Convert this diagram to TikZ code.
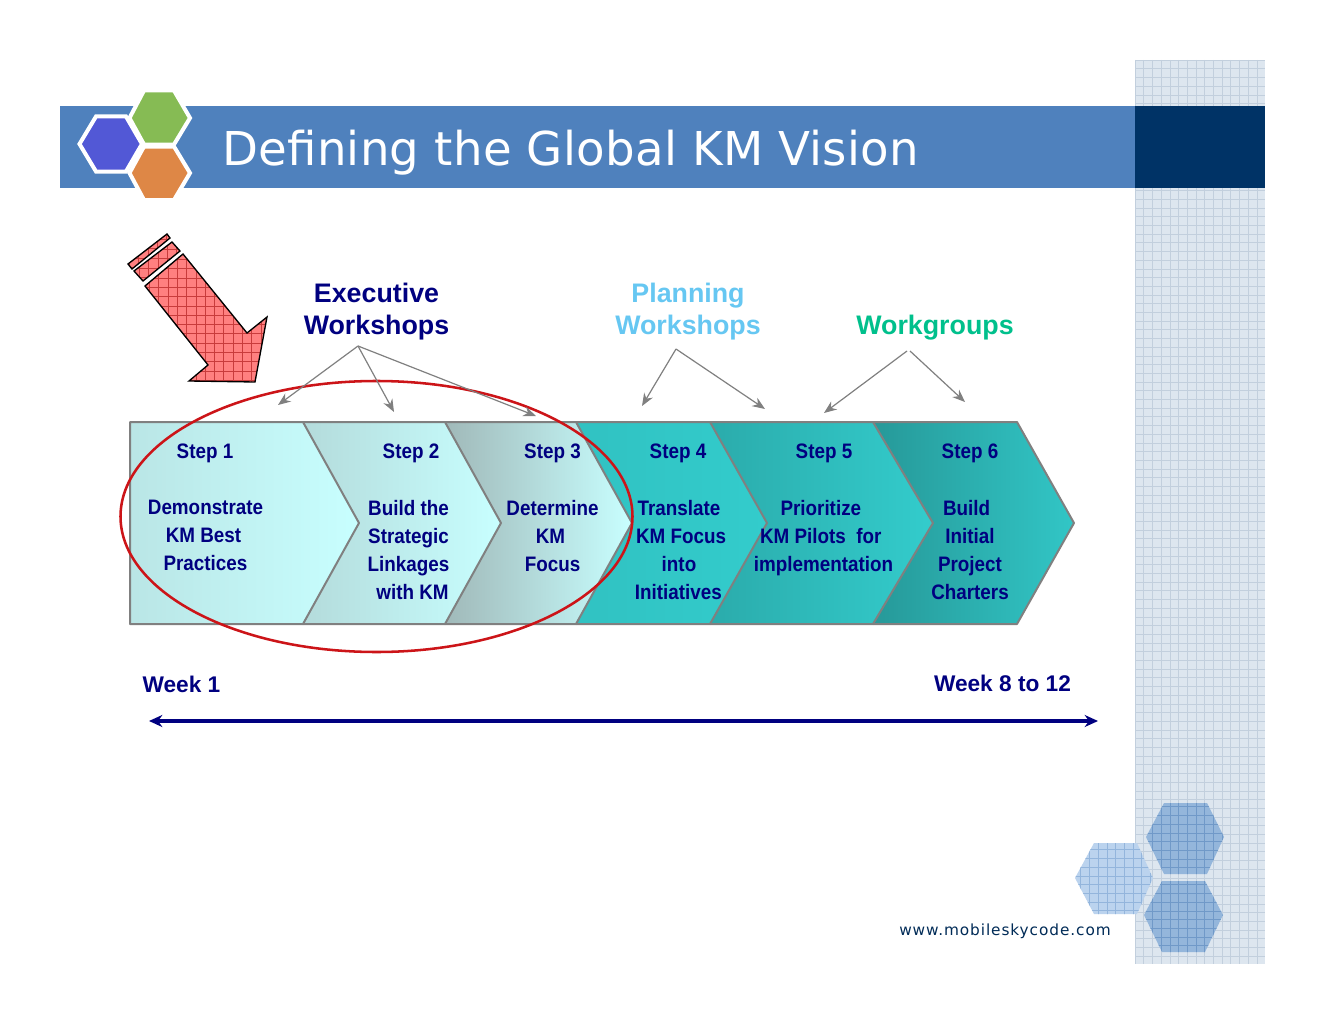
\documentclass[tikz,border=0pt]{standalone}
\usepackage{fontspec}
\setmainfont{Liberation Sans}
\newfontfamily\titlefont[LetterSpace=0.55]{DejaVu Sans}
\newfontfamily\urlfont[LetterSpace=6]{DejaVu Sans}
\newfontfamily\stepfont[FakeStretch=0.9]{Liberation Sans Bold}
\usetikzlibrary{arrows.meta}
\definecolor{barblue}{HTML}{4F81BD}
\definecolor{barnavy}{HTML}{003366}
\definecolor{panelbase}{HTML}{DDE6EF}
\definecolor{panelline}{HTML}{C2CFDD}
\definecolor{hexblue}{HTML}{5258D6}
\definecolor{hexgreen}{HTML}{86BB54}
\definecolor{hexorange}{HTML}{DE8746}
\definecolor{txtnavy}{HTML}{000080}
\definecolor{txtsky}{HTML}{66C7F2}
\definecolor{txtgreen}{HTML}{00C08C}
\definecolor{pale}{HTML}{C8FFFF}
\definecolor{teal}{HTML}{33CCCC}
\definecolor{edgegray}{HTML}{808080}
\definecolor{redring}{HTML}{CC1418}
\definecolor{arrowfill}{HTML}{FF8080}
\definecolor{arrowgrid}{HTML}{C83C3C}
\definecolor{hexlight}{HTML}{BBD3EE}
\definecolor{hexmid}{HTML}{94B6DB}
\definecolor{hexlinelight}{HTML}{93B5DC}
\definecolor{hexlinemid}{HTML}{7099C8}
\newcommand{\gridlines}[6]{% x0,y0,x1,y1,spacing,colour
  \pgfmathsetmacro{\gA}{#1+#5}\pgfmathsetmacro{\gB}{#2+#5}
  \foreach \gx in {#1,\gA,...,#3} \draw[#6,line width=.4pt] (\gx,#2) -- (\gx,#4);
  \foreach \gy in {#2,\gB,...,#4} \draw[#6,line width=.4pt] (#1,\gy) -- (#3,\gy);
}
\tikzset{
  x=.75pt,y=-.75pt,
  stepchev/.style={draw=edgegray,line width=1.5pt,line join=round},
  steptext/.style={text=txtnavy,align=center,inner sep=0pt,
    font=\stepfont\fontsize{15.7}{21}\selectfont},
  headtext/.style={align=center,inner sep=0pt,
    font=\bfseries\fontsize{20.1}{24}\selectfont},
  weektext/.style={text=txtnavy,inner sep=0pt,
    font=\bfseries\fontsize{17}{20}\selectfont},
  branch/.style={draw=edgegray,line width=.9pt,-{Stealth[length=9.5pt,width=7.5pt]}},
  hexlogo/.style={draw=white,line width=3pt,line join=miter},
  arrowpart/.style={line width=1pt,line join=miter}
}
\begin{document}
\begin{tikzpicture}
\useasboundingbox (0,0) rectangle (1325,1024);
\fill[white] (0,0) rectangle (1325,1024);
% right panel
\fill[panelbase] (1135,60) rectangle (1265,964);
\gridlines{1135}{60}{1265}{964}{8.7}{panelline}
% header
\fill[barblue] (60,106) rectangle (1135,188);
\fill[barnavy] (1135,106) rectangle (1265,188);
\node[anchor=west,text=white,inner sep=0pt,font=\titlefont\fontsize{35}{40}\selectfont] (title) at (222,153) {Defining the Global KM Vision};
% logo hexagons
\draw[hexlogo,fill=hexblue] (79.5,144) -- (96,116.5) -- (126,116.5) -- (142,144) -- (126,171.5) -- (96,171.5) -- cycle;
\draw[hexlogo,fill=hexorange] (129.5,173) -- (144,146.5) -- (174,146.5) -- (190,173) -- (174,200) -- (144,200) -- cycle;
\draw[hexlogo,fill=hexgreen] (129.5,118) -- (144,90.5) -- (174,90.5) -- (190,118) -- (174,144.5) -- (144,144.5) -- cycle;
\fill[white] (120,198.5) rectangle (200,206);
\fill[white] (120,84) rectangle (200,92);
% red arrow
\begin{scope}
\clip (167,234) -- (170,238) -- (132,269) -- (128,264) -- cycle;
\fill[arrowfill] (120,230) rectangle (180,275);
\gridlines{120}{230}{180}{275}{9.3}{arrowgrid}
\end{scope}
\draw[arrowpart] (167,234) -- (170,238) -- (132,269) -- (128,264) -- cycle;
\begin{scope}
\clip (172,242) -- (180,251) -- (143,281) -- (134,271) -- cycle;
\fill[arrowfill] (130,240) rectangle (185,285);
\gridlines{130}{240}{185}{285}{9.3}{arrowgrid}
\end{scope}
\draw[arrowpart] (172,242) -- (180,251) -- (143,281) -- (134,271) -- cycle;
\begin{scope}
\clip (183,254) -- (247,333) -- (267,317) -- (255,382) -- (189,381) -- (208,365) -- (145,286) -- cycle;
\fill[arrowfill] (140,250) rectangle (270,385);
\gridlines{140}{250}{270}{385}{9.3}{arrowgrid}
\end{scope}
\draw[arrowpart] (183,254) -- (247,333) -- (267,317) -- (255,382) -- (189,381) -- (208,365) -- (145,286) -- cycle;
% chevrons, last first
\path[stepchev,left color=teal!75!black,right color=teal!97!black] (873,422) -- (1017,422) -- (1074,523) -- (1017,624) -- (873,624) -- cycle;
\path[stepchev,left color=teal!84!black,right color=teal] (710,422) -- (873,422) -- (933,523) -- (873,624) -- (710,624) -- cycle;
\path[stepchev,left color=teal!95!black,right color=teal] (576,422) -- (710,422) -- (767,523) -- (710,624) -- (576,624) -- cycle;
\path[stepchev,left color=pale!45!gray,right color=pale] (445,422) -- (576,422) -- (632,523) -- (576,624) -- (445,624) -- cycle;
\path[stepchev,left color=pale!72!gray,right color=pale] (303,422) -- (445,422) -- (501,523) -- (445,624) -- (303,624) -- cycle;
\path[stepchev,left color=pale!80!gray,right color=pale] (130,422) -- (303,422) -- (359,523) -- (303,624) -- (130,624) -- cycle;
% step labels
\node[steptext] (s1) at (205,453) {Step 1};
\node[steptext] (s2) at (411,453) {Step 2};
\node[steptext] (s3) at (552.5,453) {Step 3};
\node[steptext] (s4) at (678,453) {Step 4};
\node[steptext] (s5) at (824,453) {Step 5};
\node[steptext] (s6) at (970,453) {Step 6};
\node[steptext,anchor=north] (t1) at (205.5,500) {Demonstrate\\\hspace*{-3pt}KM Best\\Practices};
\node[steptext,anchor=north] (t2) at (408.5,500) {Build the\\Strategic\\Linkages\\\hspace*{6pt}with KM};
\node[steptext,anchor=north] (t3) at (552.5,500) {Determine\\\hspace*{-3pt}KM\\Focus};
\node[steptext,anchor=north] (t4) at (681,500) {\hspace*{-3pt}Translate\\KM Focus\\\hspace*{-3pt}into\\\hspace*{-4pt}Initiatives};
\node[steptext,anchor=north] (t5) at (823.5,500) {\hspace*{-4pt}Prioritize\\\hspace*{-4pt}KM Pilots\ \ for\\implementation};
\node[steptext,anchor=north] (t6) at (970,500) {\hspace*{-5pt}Build\\Initial\\Project\\Charters};
% ring
\draw[redring,line width=1.9pt] (376.5,516.5) ellipse [x radius=256,y radius=135.5];
% headings
\node[headtext,text=txtnavy] (exec) at (376.5,312) {Executive\\Workshops};
\node[headtext,text=txtsky] (plan) at (688,312) {Planning\\Workshops};
\node[headtext,text=txtgreen,anchor=center] (work) at (935,328) {Workgroups};
% branch connectors
\coordinate (ea) at (358,346);
\coordinate (e1) at (278,405);
\coordinate (e2) at (394,412);
\coordinate (e3) at (536,416);
\coordinate (pa) at (676,349);
\coordinate (p1) at (642,406);
\coordinate (p2) at (765,409);
\coordinate (wa) at (907,351);
\coordinate (wb) at (910,351);
\coordinate (w1) at (824,413);
\coordinate (w2) at (965,402);
\draw[branch] (ea) -- (e1);
\draw[branch] (ea) -- (e2);
\draw[branch] (ea) -- (e3);
\draw[branch] (pa) -- (p1);
\draw[branch] (pa) -- (p2);
\draw[branch] (wa) -- (w1);
\draw[branch] (wb) -- (w2);
% timeline
\node[weektext] (wk1) at (181.5,684) {Week 1};
\node[weektext] (wk2) at (1002.5,683) {Week 8 to 12};
\coordinate (tl) at (149,721);
\coordinate (tr) at (1098,721);
\draw[txtnavy,line width=2.3pt,{Stealth[length=10pt,width=9pt]}-{Stealth[length=10pt,width=9pt]}] (tl) -- (tr);
% bottom hexagons
\begin{scope}
\clip (1075,878) -- (1094,843) -- (1137,843) -- (1153,878) -- (1137,914) -- (1094,914) -- cycle;
\fill[hexlight] (1070,840) rectangle (1160,920);
\gridlines{1072}{841}{1160}{920}{8.7}{hexlinelight}
\end{scope}
\begin{scope}
\clip (1146,837) -- (1164,803) -- (1207,803) -- (1224,837) -- (1207,874) -- (1164,874) -- cycle;
\fill[hexmid] (1140,800) rectangle (1230,880);
\gridlines{1135}{798}{1230}{880}{8.7}{hexlinemid}
\end{scope}
\begin{scope}
\clip (1144,915) -- (1162,881) -- (1205,881) -- (1223,915) -- (1205,952) -- (1162,952) -- cycle;
\fill[hexmid] (1140,878) rectangle (1230,955);
\gridlines{1135}{876}{1230}{955}{8.7}{hexlinemid}
\end{scope}
% footer
\node[inner sep=0pt,text=barnavy!85!black,font=\urlfont\fontsize{11.5}{14}\selectfont] (url) at (1005,931) {www.mobileskycode.com};
\end{tikzpicture}
\end{document}
